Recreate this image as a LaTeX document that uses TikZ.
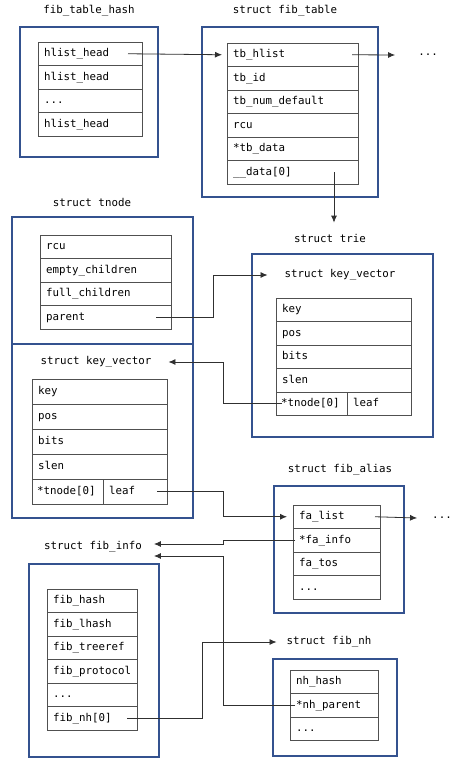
\documentclass[tikz,border=0pt]{standalone}
\usepackage{fontspec}
\setmonofont{DejaVu Sans Mono}
\usetikzlibrary{arrows.meta, positioning}
\definecolor{frameblue}{HTML}{34528F}
\definecolor{rowgray}{HTML}{505050}
\definecolor{ptrgray}{HTML}{303030}
\newcommand{\fieldfont}{\ttfamily\fontsize{10.8}{12}\selectfont}

\begin{document}
\begin{tikzpicture}[x=1pt, y=-1pt,
	frame/.style={draw=frameblue, line width=1.2pt},
	field/.style={draw=rowgray, line width=0.8pt, text width=#1, inner xsep=6pt, inner ysep=0pt, outer sep=0pt, minimum height=23.5pt, text height=8pt, text depth=2.5pt, align=left, font=\fieldfont},
	tallrow/.style={minimum height=25pt},
	title/.style={font=\fieldfont, inner sep=1pt},
	ptr/.style={draw=ptrgray, line width=0.8pt, -{Latex[length=7pt,width=6pt]}}]
					\fill[white] (0,0) rectangle (474,780);
					\useasboundingbox (0,0) rectangle (474,780);
					
					% fib_table_hash
					\node[title] (hashtitle) at (89,11) {fib\_table\_hash};
					\draw[frame] (20,27) rectangle (158,157);
					\node[field=92pt, anchor=north west] (h1) at (38,42) {hlist\_head};
					\node[field=92pt, below=0pt of h1] (h2) {hlist\_head};
					\node[field=92pt, below=0pt of h2] (h3) {...};
					\node[field=92pt, below=0pt of h3] (h4) {hlist\_head};
					
					% fib_table
					\node[title] (tabletitle) at (285,11) {struct fib\_table};
					\draw[frame] (202,27) rectangle (378,197);
					\node[field=119pt, anchor=north west] (t1) at (227,43) {tb\_hlist};
					\node[field=119pt, below=0pt of t1] (t2) {tb\_id};
					\node[field=119pt, below=0pt of t2] (t3) {tb\_num\_default};
					\node[field=119pt, below=0pt of t3] (t4) {rcu};
					\node[field=119pt, below=0pt of t4] (t5) {*tb\_data};
					\node[field=119pt, below=0pt of t5] (t6) {\_\_data[0]};
					\node[title] (more1) at (428,55) {...};
					
					% tnode
					\node[title] (tnodetitle) at (92,202) {struct tnode};
					\draw[frame] (12,217) rectangle (193,344);
					\node[field=119pt, anchor=north west] (n1) at (40,235) {rcu};
					\node[field=119pt, below=0pt of n1] (n2) {empty\_children};
					\node[field=119pt, below=0pt of n2] (n3) {full\_children};
					\node[field=119pt, below=0pt of n3] (n4) {parent};
					
					% key_vector (left)
					\node[title] (kvltitle) at (96,362) {struct key\_vector};
					\draw[frame] (12,344) rectangle (193,518);
					\node[field=123pt, tallrow, anchor=north west] (k1) at (32,379) {key};
					\node[field=123pt, tallrow, below=0pt of k1] (k2) {pos};
					\node[field=123pt, tallrow, below=0pt of k2] (k3) {bits};
					\node[field=123pt, tallrow, below=0pt of k3] (k4) {slen};
					\node[field=61pt, tallrow, inner xsep=5pt, below=0pt of k4.south west, anchor=north west] (k5a) {*tnode[0]};
					\node[field=52pt, tallrow, right=0pt of k5a] (k5b) {leaf};
					
					% trie
					\node[title] (trietitle) at (330,238) {struct trie};
					\draw[frame] (252,254) rectangle (433,437);
					\node[title] (kvttitle) at (340,275) {struct key\_vector};
					\node[field=123pt, anchor=north west] (r1) at (276,298) {key};
					\node[field=123pt, below=0pt of r1] (r2) {pos};
					\node[field=123pt, below=0pt of r2] (r3) {bits};
					\node[field=123pt, below=0pt of r3] (r4) {slen};
					\node[field=61pt, inner xsep=5pt, below=0pt of r4.south west, anchor=north west] (r5a) {*tnode[0]};
					\node[field=52pt, right=0pt of r5a] (r5b) {leaf};
					
					% fib_alias
					\node[title] (aliastitle) at (340,470) {struct fib\_alias};
					\draw[frame] (274,486) rectangle (404,613);
					\node[field=75pt, anchor=north west] (a1) at (293,505) {fa\_list};
					\node[field=75pt, below=0pt of a1] (a2) {*fa\_info};
					\node[field=75pt, below=0pt of a2] (a3) {fa\_tos};
					\node[field=75pt, below=0pt of a3] (a4) {...};
					\node[title] (more2) at (442,518) {...};
					
					% fib_info
					\node[title] (infotitle) at (93,547) {struct fib\_info};
					\draw[frame] (29,564) rectangle (159,757);
					\node[field=78pt, anchor=north west] (i1) at (47,589) {fib\_hash};
					\node[field=78pt, below=0pt of i1] (i2) {fib\_lhash};
					\node[field=78pt, below=0pt of i2] (i3) {fib\_treeref};
					\node[field=78pt, below=0pt of i3] (i4) {fib\_protocol};
					\node[field=78pt, below=0pt of i4] (i5) {...};
					\node[field=78pt, below=0pt of i5] (i6) {fib\_nh[0]};
					
					% fib_nh
					\node[title] (nhtitle) at (329,642) {struct fib\_nh};
					\draw[frame] (273,659) rectangle (397,756);
					\node[field=76pt, anchor=north west] (b1) at (290,670) {nh\_hash};
					\node[field=76pt, below=0pt of b1] (b2) {*nh\_parent};
					\node[field=76pt, below=0pt of b2] (b3) {...};
					
					% pointers
					\draw[ptr] ([xshift=-14pt]h1.east) -- ([xshift=-5pt]t1.west);
					\draw[ptr] ([xshift=-6pt]t1.east) -- ([xshift=-22pt]more1.west);
					\coordinate (tdata) at ([xshift=-24pt]t6.east);
					\draw[ptr, shorten >=10pt] (tdata) -- (tdata |- trietitle.north);
					\draw[ptr] ([xshift=-15pt]n4.east) -- ++(57,0) |- ([xshift=-16pt]kvttitle.west);
					\draw[ptr] ([xshift=6pt]r5a.west) -- ++(-59,0) |- ([xshift=16pt]kvltitle.east);
					\draw[ptr] ([xshift=-10pt]k5b.east) -- ++(66,0) |- ([xshift=-6pt]a1.west);
					\draw[ptr] ([xshift=-5pt]a1.east) -- ([xshift=-14pt]more2.west);
					\draw[ptr] ([xshift=2pt]a2.west) -- ++(-72,0) |- ([xshift=11pt,yshift=3pt]infotitle.east);
					\draw[ptr] ([xshift=5pt]b2.west) -- ++(-72,0) |- ([xshift=11pt,yshift=-9pt]infotitle.east);
					\draw[ptr] ([xshift=-10pt]i6.east) -- ++(75,0) |- ([xshift=-9pt]nhtitle.west);
				\end{tikzpicture}
\end{document}
